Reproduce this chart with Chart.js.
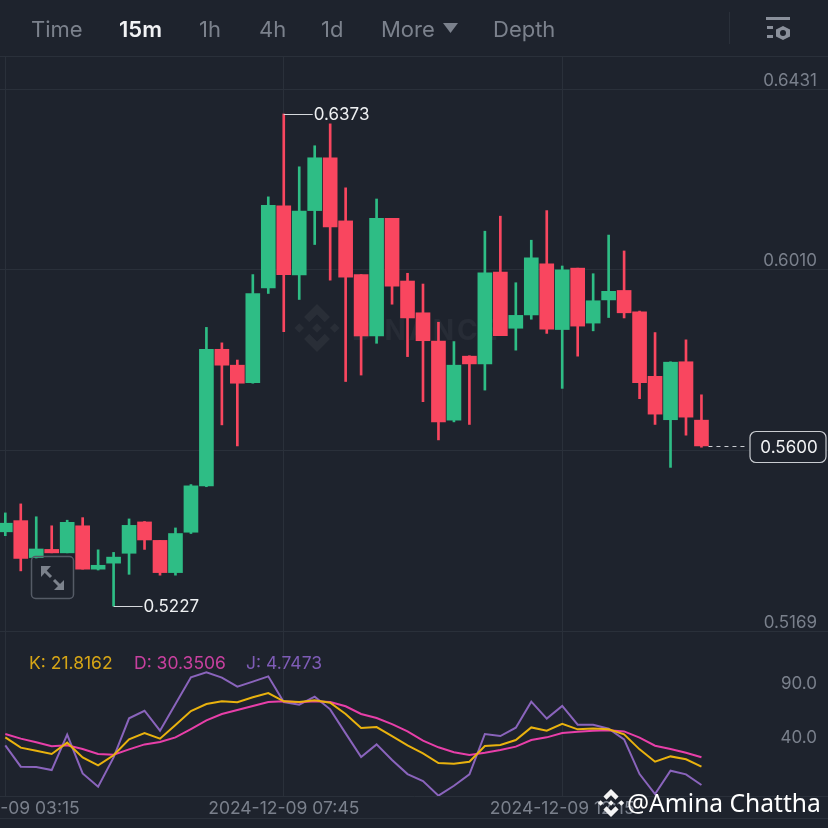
<!DOCTYPE html>
<html>
<head>
<meta charset="utf-8">
<title>KDJ 15m</title>
<script src="https://cdn.jsdelivr.net/npm/chart.js@4/dist/chart.umd.min.js"></script>
<style>
  html, body { margin: 0; padding: 0; background: #1e232d; }
  body { width: 828px; height: 828px; position: relative; overflow: hidden; font-family: Inter, sans-serif; }
  canvas { position: absolute; left: 0; top: 0; }
  .tab { position: absolute; top: 15px; font-size: 22px; line-height: 28px; color: #7b818c; white-space: nowrap; }
  .tab.on { color: #f2f3f5; font-weight: 600; }
  .kdj { position: absolute; top: 652px; font-size: 17.5px; line-height: 21px; white-space: nowrap; }
  .rule { position: absolute; background: #2a303a; }
  .mark { position: absolute; left: 627px; top: 786px; font-family: "Noto Sans", sans-serif; font-size: 24.6px; line-height: 34px; color: #fff; white-space: nowrap; }
</style>
</head>
<body>
<canvas id="chart" width="828" height="828"></canvas>
<div class="rule" style="left:0;top:56px;width:828px;height:1px"></div>
<div class="rule" style="left:0;top:818px;width:828px;height:1px"></div>
<div class="rule" style="left:729px;top:12px;width:1px;height:32px"></div>
<span class="tab" style="left:31px">Time</span>
<span class="tab on" style="left:119px">15m</span>
<span class="tab" style="left:199px">1h</span>
<span class="tab" style="left:259px">4h</span>
<span class="tab" style="left:321px">1d</span>
<span class="tab" style="left:381px">More</span>
<span class="tab" style="left:493px">Depth</span>
<span class="kdj" id="kLabel" style="left:29px;color:#d6a516"></span>
<span class="kdj" id="dLabel" style="left:134px;color:#c8409f"></span>
<span class="kdj" id="jLabel" style="left:246px;color:#7e5cb6"></span>
<span class="mark">@Amina Chattha</span>

<script>
const times = [
  '2024-12-09 03:15', '2024-12-09 03:30', '2024-12-09 03:45', '2024-12-09 04:00', '2024-12-09 04:15', '2024-12-09 04:30',
  '2024-12-09 04:45', '2024-12-09 05:00', '2024-12-09 05:15', '2024-12-09 05:30', '2024-12-09 05:45', '2024-12-09 06:00',
  '2024-12-09 06:15', '2024-12-09 06:30', '2024-12-09 06:45', '2024-12-09 07:00', '2024-12-09 07:15', '2024-12-09 07:30',
  '2024-12-09 07:45', '2024-12-09 08:00', '2024-12-09 08:15', '2024-12-09 08:30', '2024-12-09 08:45', '2024-12-09 09:00',
  '2024-12-09 09:15', '2024-12-09 09:30', '2024-12-09 09:45', '2024-12-09 10:00', '2024-12-09 10:15', '2024-12-09 10:30',
  '2024-12-09 10:45', '2024-12-09 11:00', '2024-12-09 11:15', '2024-12-09 11:30', '2024-12-09 11:45', '2024-12-09 12:00',
  '2024-12-09 12:15', '2024-12-09 12:30', '2024-12-09 12:45', '2024-12-09 13:00', '2024-12-09 13:15', '2024-12-09 13:30',
  '2024-12-09 13:45', '2024-12-09 14:00', '2024-12-09 14:15', '2024-12-09 14:30'
];
const opens = [
  0.5400, 0.5426, 0.5340, 0.5359, 0.5351, 0.5414, 0.5313, 0.5327, 0.5350, 0.5423,
  0.5380, 0.5305, 0.5399, 0.5507, 0.5825, 0.5788, 0.5747, 0.5968, 0.6159, 0.5998,
  0.6148, 0.6271, 0.6124, 0.5999, 0.5856, 0.6130, 0.5984, 0.5910, 0.5844, 0.5660,
  0.5809, 0.5791, 0.6005, 0.5874, 0.5905, 0.6024, 0.5871, 0.6014, 0.5886, 0.5940,
  0.5962, 0.5912, 0.5762, 0.5661, 0.5796, 0.5660
];
const highs = [
  0.5444, 0.5465, 0.5435, 0.5414, 0.5427, 0.5433, 0.5358, 0.5352, 0.5430, 0.5424,
  0.5380, 0.5409, 0.5510, 0.5876, 0.5840, 0.5800, 0.5999, 0.6180, 0.6373, 0.6250,
  0.6299, 0.6350, 0.6201, 0.5999, 0.6175, 0.6130, 0.6002, 0.5977, 0.5888, 0.5843,
  0.5810, 0.6100, 0.6135, 0.5980, 0.6079, 0.6148, 0.6019, 0.6014, 0.6001, 0.6091,
  0.6054, 0.5914, 0.5864, 0.5796, 0.5847, 0.5719
];
const lows = [
  0.5391, 0.5309, 0.5339, 0.5351, 0.5351, 0.5313, 0.5311, 0.5227, 0.5301, 0.5359,
  0.5299, 0.5299, 0.5396, 0.5505, 0.5649, 0.5600, 0.5746, 0.5955, 0.5866, 0.5941,
  0.6069, 0.5986, 0.5750, 0.5765, 0.5839, 0.5930, 0.5808, 0.5703, 0.5614, 0.5656,
  0.5650, 0.5730, 0.5857, 0.5823, 0.5895, 0.5862, 0.5734, 0.5809, 0.5868, 0.5899,
  0.5898, 0.5710, 0.5650, 0.5550, 0.5625, 0.5597
];
const closes = [
  0.5420, 0.5338, 0.5360, 0.5351, 0.5422, 0.5313, 0.5322, 0.5341, 0.5415, 0.5381,
  0.5305, 0.5396, 0.5507, 0.5825, 0.5788, 0.5746, 0.5955, 0.6160, 0.5999, 0.6147,
  0.6271, 0.6110, 0.5993, 0.5856, 0.6130, 0.5972, 0.5898, 0.5845, 0.5656, 0.5788,
  0.5791, 0.6003, 0.5857, 0.5904, 0.6038, 0.5872, 0.6010, 0.5879, 0.5938, 0.5960,
  0.5910, 0.5747, 0.5674, 0.5795, 0.5667, 0.5600
];
const kValues = [
  48.8, 39.3, 36.5, 33.4, 43.9, 30.3, 22.9, 32.2, 47.0, 52.8,
  47.6, 60.2, 73.1, 79.6, 82.1, 81.2, 85.8, 89.8, 82.1, 81.5,
  83.0, 80.8, 70.4, 57.4, 58.3, 50.0, 41.4, 34.0, 25.1, 24.5,
  26.3, 40.8, 41.7, 46.3, 58.0, 55.0, 61.4, 56.2, 57.1, 56.2,
  51.6, 37.7, 26.3, 31.2, 28.5, 21.8162
];
const dValues = [
  51.9, 47.6, 44.2, 40.5, 41.4, 38.0, 33.4, 32.8, 37.7, 42.3,
  44.5, 48.8, 56.5, 64.5, 70.4, 74.1, 77.8, 81.5, 82.1, 81.2,
  82.1, 81.5, 77.5, 70.4, 66.7, 61.1, 54.3, 45.7, 39.6, 35.0,
  32.5, 34.6, 37.1, 40.2, 46.3, 48.8, 52.8, 54.0, 55.0, 55.3,
  54.3, 48.5, 41.1, 38.0, 34.6, 30.3506
];
const jValues = [
  41.4, 21.7, 21.4, 18.6, 51.3, 15.5, 3.2, 30.3, 66.4, 73.4,
  55.0, 79.6, 104.3, 108.9, 104.0, 95.6, 100.3, 105.2, 81.5, 79.0,
  86.4, 74.7, 52.5, 30.6, 42.3, 27.9, 14.9, 8.4, -5.1, 4.1,
  14.6, 51.9, 50.0, 57.7, 81.8, 66.1, 77.8, 60.5, 60.5, 56.8,
  47.0, 14.9, -3.6, 18.0, 14.6, 4.7473
];
const priceTicks = [0.6431, 0.6010, 0.5589, 0.5169];
const priceTickLabels = ['0.6431', '0.6010', '', '0.5169'];
const kdjTicks = [90, 40];
const kdjTickLabels = ['90.0', '40.0'];
const timeTicks = [0, 18, 36];
const lastPrice = 0.5600;
const highPrice = 0.6373;
const lowPrice = 0.5227;

const GREEN = '#2ebd85';
const RED = '#f9465f';
const GRID = '#2a303a';
const MUTED = '#7a808c';
const FONT = 'Inter, sans-serif';

document.getElementById('kLabel').textContent = 'K: ' + kValues[kValues.length - 1].toFixed(4);
document.getElementById('dLabel').textContent = 'D: ' + dValues[dValues.length - 1].toFixed(4);
document.getElementById('jLabel').textContent = 'J: ' + jValues[jValues.length - 1].toFixed(4);

const candleColors = opens.map((o, i) => (closes[i] >= o ? GREEN : RED));
const wickData = times.map((t, i) => ({ x: i, y: [lows[i], highs[i]] }));
const bodyData = times.map((t, i) => ({ x: i, y: [opens[i], closes[i]] }));
const toLine = values => values.map((v, i) => ({ x: i, y: v }));

// binance diamond mark, s is the half height
function drawLogo(ctx, cx, cy, s, color) {
  const shapes = [
    [[0, -0.2], [0.2, 0], [0, 0.2], [-0.2, 0]],
    [[-0.74, -0.2], [-0.54, 0], [-0.74, 0.2], [-0.94, 0]],
    [[0.74, -0.2], [0.94, 0], [0.74, 0.2], [0.54, 0]],
    [[0, -1], [0.54, -0.46], [0.32, -0.24], [0, -0.56], [-0.32, -0.24], [-0.54, -0.46]],
    [[0, 1], [0.54, 0.46], [0.32, 0.24], [0, 0.56], [-0.32, 0.24], [-0.54, 0.46]]
  ];
  ctx.fillStyle = color;
  shapes.forEach(shape => {
    ctx.beginPath();
    shape.forEach((p, i) => {
      if (i === 0) ctx.moveTo(cx + p[0] * s, cy + p[1] * s);
      else ctx.lineTo(cx + p[0] * s, cy + p[1] * s);
    });
    ctx.closePath();
    ctx.fill();
  });
}

const watermark = {
  id: 'watermark',
  beforeDatasetsDraw(chart) {
    const ctx = chart.ctx;
    ctx.save();
    drawLogo(ctx, 317, 328, 24, 'rgba(255,255,255,0.05)');
    ctx.fillStyle = 'rgba(255,255,255,0.045)';
    ctx.font = 'bold 28px ' + FONT;
    ctx.textAlign = 'left';
    ctx.textBaseline = 'middle';
    ctx.letterSpacing = '3px';
    ctx.fillText('BINANCE', 352, 332);
    ctx.restore();
  }
};

function drawExpandIcon(ctx) {
  ctx.strokeStyle = '#555b66';
  ctx.lineWidth = 1.5;
  ctx.beginPath();
  ctx.roundRect(31.5, 556.5, 42, 42, 4);
  ctx.stroke();
  ctx.strokeStyle = '#7c828c';
  ctx.fillStyle = '#7c828c';
  ctx.lineWidth = 3;
  ctx.beginPath();
  ctx.moveTo(44, 570);
  ctx.lineTo(51, 577);
  ctx.moveTo(61, 587);
  ctx.lineTo(54, 580);
  ctx.stroke();
  ctx.beginPath();
  ctx.moveTo(41, 566);
  ctx.lineTo(51, 566);
  ctx.lineTo(41, 577);
  ctx.closePath();
  ctx.fill();
  ctx.beginPath();
  ctx.moveTo(64, 590);
  ctx.lineTo(54, 590);
  ctx.lineTo(64, 580);
  ctx.closePath();
  ctx.fill();
}

function drawHeaderIcons(ctx) {
  ctx.fillStyle = '#7b818c';
  // triangle next to More
  ctx.beginPath();
  ctx.moveTo(443, 23);
  ctx.lineTo(458, 23);
  ctx.lineTo(450.5, 33);
  ctx.closePath();
  ctx.fill();
  // settings icon
  ctx.fillStyle = '#8a909b';
  ctx.fillRect(766, 17, 24, 3);
  ctx.fillRect(767, 26, 6, 3);
  ctx.fillRect(767, 35, 6, 3);
  ctx.beginPath();
  ctx.moveTo(783, 26);
  ctx.lineTo(790, 29.5);
  ctx.lineTo(790, 36.5);
  ctx.lineTo(783, 40);
  ctx.lineTo(776, 36.5);
  ctx.lineTo(776, 29.5);
  ctx.closePath();
  ctx.fill();
  ctx.fillStyle = '#1e232d';
  ctx.beginPath();
  ctx.arc(783, 33, 3, 0, Math.PI * 2);
  ctx.fill();
}

const overlay = {
  id: 'overlay',
  afterDatasetsDraw(chart) {
    const ctx = chart.ctx;
    const xs = chart.scales.x;
    const ys = chart.scales.y;
    ctx.save();

    // high and low markers
    ctx.strokeStyle = '#d5d8dc';
    ctx.lineWidth = 1;
    ctx.fillStyle = '#eef0f2';
    ctx.font = '17px ' + FONT;
    ctx.textAlign = 'left';
    ctx.textBaseline = 'middle';
    const hx = xs.getPixelForValue(highs.indexOf(highPrice));
    const hy = Math.round(ys.getPixelForValue(highPrice)) + 0.5;
    ctx.beginPath();
    ctx.moveTo(hx, hy);
    ctx.lineTo(hx + 29, hy);
    ctx.stroke();
    ctx.fillText(highPrice.toFixed(4), hx + 30, hy + 0.5);
    const lx = xs.getPixelForValue(lows.indexOf(lowPrice));
    const ly = Math.round(ys.getPixelForValue(lowPrice)) + 0.5;
    ctx.beginPath();
    ctx.moveTo(lx, ly);
    ctx.lineTo(lx + 29, ly);
    ctx.stroke();
    ctx.fillText(lowPrice.toFixed(4), lx + 30, ly + 0.5);

    // last price line and pill
    const py = Math.round(ys.getPixelForValue(lastPrice)) + 0.5;
    ctx.strokeStyle = '#c9ccd1';
    ctx.setLineDash([4, 4]);
    ctx.beginPath();
    ctx.moveTo(xs.getPixelForValue(times.length - 1) + 7, py);
    ctx.lineTo(746, py);
    ctx.stroke();
    ctx.setLineDash([]);
    ctx.fillStyle = '#1e232d';
    ctx.strokeStyle = '#c9ccd1';
    ctx.lineWidth = 1.2;
    ctx.beginPath();
    ctx.roundRect(750, py - 15, 76, 31, 6);
    ctx.fill();
    ctx.stroke();
    ctx.fillStyle = '#f2f3f5';
    ctx.textAlign = 'center';
    ctx.fillText(lastPrice.toFixed(4), 789, py + 1);

    drawExpandIcon(ctx);
    drawHeaderIcons(ctx);
    drawLogo(ctx, 611, 803, 14, '#f4f4f4');
    ctx.restore();
  }
};

new Chart(document.getElementById('chart'), {
  data: {
    datasets: [
      {
        type: 'bar', label: 'Wick', data: wickData, yAxisID: 'y', stack: 'candle',
        backgroundColor: candleColors, barThickness: 2, order: 2
      },
      {
        type: 'bar', label: 'Candle', data: bodyData, yAxisID: 'y', stack: 'candle',
        backgroundColor: candleColors, barThickness: 14, order: 1
      },
      {
        type: 'line', label: 'K', data: toLine(kValues), yAxisID: 'kdj',
        borderColor: '#e9b20e', borderWidth: 2, pointRadius: 0, tension: 0, order: 0
      },
      {
        type: 'line', label: 'D', data: toLine(dValues), yAxisID: 'kdj',
        borderColor: '#e83fa9', borderWidth: 2, pointRadius: 0, tension: 0, order: 0
      },
      {
        type: 'line', label: 'J', data: toLine(jValues), yAxisID: 'kdj',
        borderColor: '#8a64bc', borderWidth: 2, pointRadius: 0, tension: 0, order: 0
      }
    ]
  },
  options: {
    responsive: false,
    animation: false,
    layout: { autoPadding: false, padding: { top: 56, bottom: 0, left: 0, right: 0 } },
    plugins: { legend: { display: false }, tooltip: { enabled: false } },
    scales: {
      x: {
        type: 'linear',
        offset: false,
        min: -0.3426,
        max: 53.18,
        afterBuildTicks: s => { s.ticks = timeTicks.map(v => ({ value: v })); },
        // the first label is allowed to run off the left edge
        afterFit: s => { s.height = 32; s.paddingLeft = 0; s.paddingRight = 0; },
        grid: { color: GRID, drawTicks: false, offset: false },
        border: { display: true, color: GRID },
        ticks: {
          autoSkip: false,
          maxRotation: 0,
          padding: 2,
          color: MUTED,
          font: { family: FONT, size: 17.5 },
          callback: v => times[v]
        }
      },
      y: {
        position: 'right',
        stack: 'panels',
        stackWeight: 575,
        stacked: false,
        min: 0.5169,
        max: 0.6508,
        afterBuildTicks: s => { s.ticks = priceTicks.map(v => ({ value: v })); },
        afterFit: s => { s.width = 0; },
        grid: { color: GRID, drawTicks: false },
        border: { display: false },
        ticks: {
          mirror: true,
          padding: -11,
          color: MUTED,
          font: { family: FONT, size: 17, lineHeight: 1 },
          // the empty second line lifts the label above its grid line
          callback: (v, i) => [priceTickLabels[i], '']
        }
      },
      kdj: {
        position: 'right',
        stack: 'panels',
        stackWeight: 165,
        min: -5.4,
        max: 147.1,
        afterBuildTicks: s => { s.ticks = kdjTicks.map(v => ({ value: v })); },
        afterFit: s => { s.width = 0; },
        grid: { display: false },
        border: { display: false },
        ticks: {
          mirror: true,
          padding: -11,
          color: MUTED,
          font: { family: FONT, size: 17, lineHeight: 1 },
          callback: (v, i) => [kdjTickLabels[i], '']
        }
      }
    }
  },
  plugins: [watermark, overlay]
});
</script>
</body>
</html>
